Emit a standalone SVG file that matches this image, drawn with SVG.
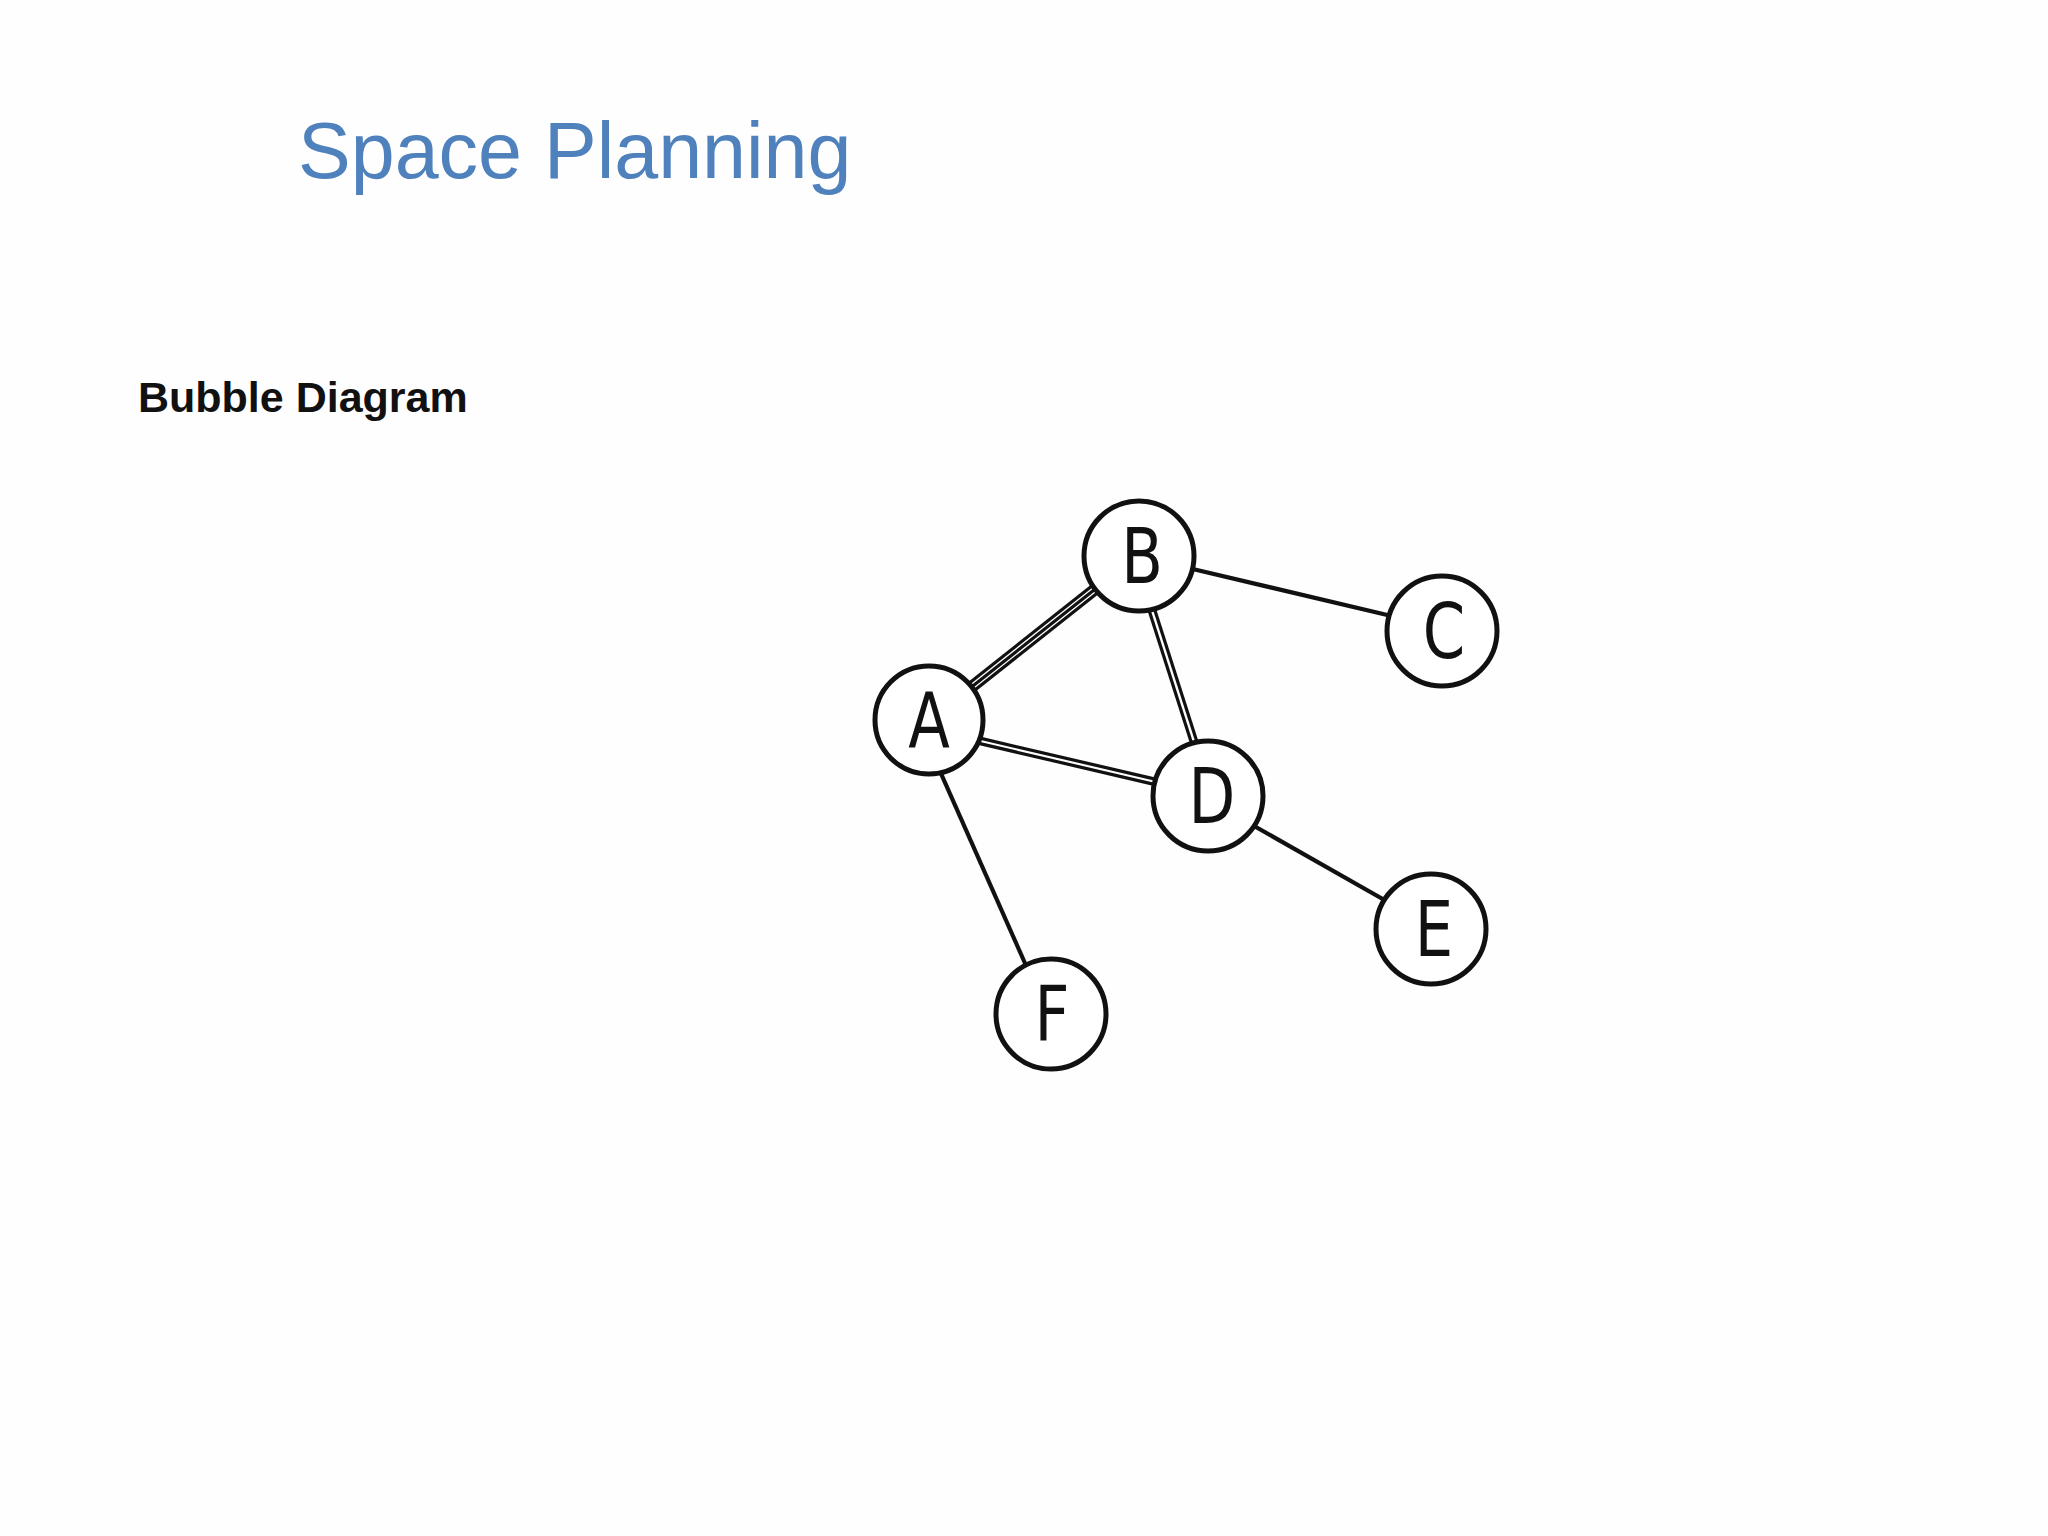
<svg xmlns="http://www.w3.org/2000/svg" width="2048" height="1536" viewBox="0 0 2048 1536">
<style>
.bub{fill:#fff;stroke:#111;stroke-width:5}
.lbl{font-family:"DejaVu Sans","Liberation Sans",sans-serif;font-size:76px;fill:#111;text-anchor:middle;dominant-baseline:central}
.ln{stroke:#111;stroke-width:4.2;fill:none}
.ln2{stroke:#111;stroke-width:3.2;fill:none}
</style>
<rect width="2048" height="1536" fill="#fefefe"/>
<text x="298" y="178" font-family="Liberation Sans, Arial, sans-serif" font-size="79" fill="#4F81BD">Space Planning</text>
<text x="138" y="412" font-family="Liberation Sans, Arial, sans-serif" font-size="43" font-weight="bold" fill="#111">Bubble Diagram</text>
<g id="connectors">
<line class="ln" x1="1180" y1="566" x2="1400" y2="618"/>
<line class="ln" x1="1240" y1="818" x2="1395" y2="906"/>
<line class="ln" x1="935" y1="760" x2="1028" y2="970"/>
<line class="ln2" x1="966.2" y1="685.5" x2="1091.2" y2="586.5"/>
<line class="ln2" x1="969" y1="689" x2="1094" y2="590"/>
<line class="ln2" x1="971.8" y1="692.5" x2="1096.8" y2="593.5"/>
<line class="ln2" x1="1146.4" y1="601.9" x2="1193.4" y2="748.9"/>
<line class="ln2" x1="1151.6" y1="600.1" x2="1198.6" y2="747.1"/>
<line class="ln2" x1="972.6" y1="736.4" x2="1160.6" y2="780.4"/>
<line class="ln2" x1="971.4" y1="741.6" x2="1159.4" y2="785.6"/>
</g>
<g id="node-A"><circle class="bub" cx="929" cy="720" r="54"/><text class="lbl" transform="translate(929,720) scale(0.8,1)">A</text></g>
<g id="node-B"><circle class="bub" cx="1139" cy="556" r="55"/><text class="lbl" transform="translate(1142,556) scale(0.8,1)">B</text></g>
<g id="node-C"><circle class="bub" cx="1442" cy="631" r="55"/><text class="lbl" transform="translate(1444,631) scale(0.8,1)">C</text></g>
<g id="node-D"><circle class="bub" cx="1208" cy="796" r="55"/><text class="lbl" transform="translate(1212,796) scale(0.8,1)">D</text></g>
<g id="node-E"><circle class="bub" cx="1431" cy="929" r="55"/><text class="lbl" transform="translate(1434,929) scale(0.8,1)">E</text></g>
<g id="node-F"><circle class="bub" cx="1051" cy="1014" r="55"/><text class="lbl" transform="translate(1052,1014) scale(0.8,1)">F</text></g>
</svg>
